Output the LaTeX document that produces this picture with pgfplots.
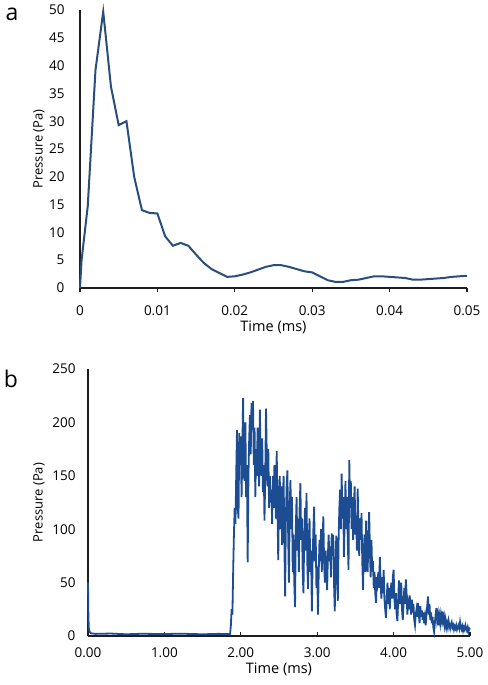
\documentclass[border=0pt]{standalone}
\usepackage{pgfplots}
\pgfplotsset{compat=1.18}
\usepackage{fontspec}
\setmainfont{Open Sans}
\definecolor{lineA}{RGB}{40,78,125}
\definecolor{lineB}{RGB}{28,76,145}
\definecolor{axc}{RGB}{30,30,30}
\begin{document}
\begin{tikzpicture}
\pgfplotsset{
  common/.style={
    scale only axis,
    anchor=south west,
    axis lines=left,
    axis line style={-, axc, line width=1.2pt},
    every tick/.style={axc, line width=1.1pt},
    ytick style={draw=none},
    tick label style={font=\fontsize{13.5}{15}\selectfont},
    xlabel style={font=\fontsize{14.5}{16}\selectfont},
    ylabel style={font=\fontsize{13}{15}\selectfont},
    xticklabel style={anchor=center},
    yticklabel style={anchor=east},
    /pgf/number format/assume math mode=true,
    scaled ticks=false,
    clip=false,
  }
}
% ---------- panel a ----------
\begin{axis}[common,
  at={(80pt,397pt)}, width=387pt, height=278pt,
  xmin=0, xmax=0.05, ymin=0, ymax=50,
  xtick={0,0.01,0.02,0.03,0.04,0.05},
  xticklabels={0,0.01,0.02,0.03,0.04,0.05},
  ytick={0,5,...,50},
  tick align=outside, major tick length=4pt,
  xticklabel style={yshift=-19pt},
  yticklabel style={xshift=-8pt},
  xlabel={Time (ms)}, ylabel={Pressure (Pa)},
  xlabel style={at={(axis description cs:0.5,-0.14)}, anchor=center},
  ylabel style={at={(axis description cs:-0.106,0.5)}, anchor=center, rotate=0},
]
\addplot[lineA, line width=2pt] coordinates {
(0,0) (0.0002,5) (0.001,14.7) (0.002,39.2) (0.003,49.7) (0.004,36.2)
(0.005,29.3) (0.006,30) (0.007,20) (0.008,14) (0.009,13.5) (0.010,13.4)
(0.011,9.3) (0.012,7.6) (0.013,8.1) (0.014,7.6) (0.015,6) (0.016,4.5)
(0.017,3.4) (0.018,2.7) (0.019,2.0) (0.020,2.1) (0.021,2.4) (0.022,2.8)
(0.023,3.3) (0.024,3.8) (0.025,4.1) (0.026,4.1) (0.027,3.8) (0.028,3.4)
(0.029,3.0) (0.030,2.8) (0.031,2.1) (0.032,1.4) (0.033,1.1) (0.034,1.1)
(0.035,1.4) (0.036,1.5) (0.037,1.8) (0.038,2.1) (0.039,2.1) (0.040,2.0)
(0.041,1.9) (0.042,1.8) (0.043,1.5) (0.044,1.5) (0.045,1.6) (0.046,1.7)
(0.047,1.8) (0.048,2.0) (0.049,2.1) (0.050,2.2)
};
\end{axis}
% ---------- panel b ----------
\begin{axis}[common,
  at={(88pt,49pt)}, width=382pt, height=267pt,
  xmin=0, xmax=5, ymin=0, ymax=250,
  xtick={0,1,2,3,4,5},
  xticklabels={0.00,1.00,2.00,3.00,4.00,5.00},
  ytick={0,50,...,250},
  tick align=inside, major tick length=4pt,
  xticklabel style={yshift=-17pt},
  yticklabel style={xshift=-9pt},
  xlabel={Time (ms)}, ylabel={Pressure (Pa)},
  xlabel style={at={(axis description cs:0.5,-0.125)}, anchor=center},
  ylabel style={at={(axis description cs:-0.128,0.5)}, anchor=center, rotate=0},
]
\addplot[lineB, line width=1.8pt] coordinates {
(0,50) (0.005,20) (0.01,8) (0.02,4) (0.04,2.5) (0.1,2) (0.3,2.3) (0.5,1.6)
(0.7,2.1) (1.0,1.8) (1.2,2.2) (1.5,1.6) (1.7,2) (1.85,1.8)
(1.86,2) (1.87,10) (1.88,25) (1.89,20) (1.90,60) (1.91,95) (1.92,120) (1.93,105)
(1.94,150) (1.95,193) (1.96,120) (1.97,110) (1.98,190) (1.99,160) (2.00,187)
(2.01,130) (2.02,175) (2.03,223) (2.04,150) (2.05,145) (2.06,200) (2.07,130)
(2.08,160) (2.09,69) (2.10,150) (2.11,185) (2.12,207) (2.13,170) (2.14,218)
(2.15,200) (2.16,220) (2.17,160) (2.18,195) (2.19,130) (2.20,175) (2.21,150)
(2.22,195) (2.23,180) (2.24,140) (2.25,212) (2.26,165) (2.27,150) (2.28,185)
(2.29,135) (2.30,160) (2.31,108) (2.32,150) (2.33,213) (2.34,170) (2.35,140)
(2.36,175) (2.37,120) (2.38,150) (2.39,125)
(2.40,137) (2.41,105) (2.42,150) (2.43,120) (2.44,160) (2.45,135) (2.46,110)
(2.47,173) (2.48,120) (2.49,71) (2.50,130) (2.51,150) (2.52,100) (2.53,140)
(2.54,85) (2.55,125) (2.56,150) (2.57,90) (2.58,37) (2.59,110) (2.60,140)
(2.61,155) (2.62,95) (2.63,50) (2.64,120) (2.65,146) (2.66,100) (2.67,130)
(2.68,60) (2.69,95) (2.70,50) (2.71,27) (2.72,100) (2.73,130) (2.74,80)
(2.75,110) (2.76,60) (2.77,120) (2.78,143) (2.79,90) (2.80,110) (2.81,60)
(2.82,40) (2.83,95) (2.84,120) (2.85,80) (2.86,134) (2.87,70) (2.88,44)
(2.89,90) (2.90,110) (2.91,60) (2.92,80) (2.93,23) (2.94,70) (2.95,100)
(2.96,121) (2.97,70) (2.98,95) (2.99,45) (3.00,65) (3.01,20) (3.02,60)
(3.03,90) (3.04,70) (3.05,100) (3.06,60) (3.07,85) (3.08,112) (3.09,70)
(3.10,50) (3.11,80) (3.12,60) (3.13,43) (3.14,75) (3.15,95) (3.16,70)
(3.17,84) (3.18,55) (3.19,96) (3.20,75) (3.21,95) (3.22,50) (3.23,23)
(3.24,70) (3.25,94) (3.26,60) (3.27,33) (3.28,90) (3.29,120) (3.30,137)
(3.31,100) (3.32,152) (3.33,110) (3.34,130) (3.35,74) (3.36,110) (3.37,145)
(3.38,100) (3.39,130) (3.40,90) (3.41,62) (3.42,165) (3.43,120) (3.44,145)
(3.45,100) (3.46,130) (3.47,90) (3.48,120) (3.49,140) (3.50,95) (3.51,110)
(3.52,80) (3.53,138) (3.54,100) (3.55,75) (3.56,110) (3.57,90) (3.58,115)
(3.59,70) (3.60,43) (3.61,80) (3.62,95) (3.63,60) (3.64,108) (3.65,80)
(3.66,60) (3.67,90) (3.68,116) (3.69,80) (3.70,55) (3.71,90) (3.72,60)
(3.73,70) (3.74,45) (3.75,60) (3.76,40) (3.77,31) (3.78,55) (3.79,50)
(3.80,60) (3.81,45) (3.82,74) (3.83,50) (3.84,35) (3.85,55) (3.86,40)
(3.87,62) (3.88,35) (3.89,25) (3.90,17) (3.91,35) (3.92,50) (3.93,30)
(3.94,45) (3.95,25) (3.96,40) (3.97,50) (3.98,35) (3.99,55) (4.00,62)
(4.01,35) (4.02,25) (4.03,40) (4.04,20) (4.05,14) (4.06,35) (4.07,52)
(4.08,30) (4.09,45) (4.10,50) (4.11,25) (4.12,15) (4.13,30) (4.14,45)
(4.15,30) (4.16,53) (4.17,40) (4.18,20) (4.19,30) (4.20,25) (4.21,38)
(4.22,30) (4.23,20) (4.24,34) (4.25,22) (4.26,30) (4.27,15) (4.28,10)
(4.29,20) (4.30,25) (4.31,18) (4.32,31) (4.33,20) (4.34,12) (4.35,28)
(4.36,18) (4.37,24) (4.38,15) (4.39,22) (4.40,12) (4.41,18) (4.42,10)
(4.43,20) (4.44,28) (4.45,37) (4.46,20) (4.47,30) (4.48,15) (4.49,22)
(4.50,12) (4.51,18) (4.52,8) (4.53,4) (4.54,12) (4.55,20) (4.56,26)
(4.57,15) (4.58,20) (4.59,10) (4.60,18) (4.61,12) (4.62,20) (4.63,15)
(4.64,23) (4.65,14) (4.66,18) (4.67,10) (4.68,15) (4.69,8) (4.70,12)
(4.71,8) (4.72,14) (4.73,10) (4.74,7) (4.75,11) (4.76,13) (4.77,8)
(4.78,10) (4.79,6) (4.80,9) (4.81,7) (4.82,10) (4.83,6) (4.84,8)
(4.85,10) (4.86,7) (4.87,13) (4.88,8) (4.89,6) (4.90,9) (4.91,5)
(4.92,8) (4.93,6) (4.94,10) (4.95,7) (4.96,5) (4.97,8) (4.98,4)
(4.99,7) (5.00,6)
};
\end{axis}
\node[font=\fontsize{23}{26}\selectfont, anchor=base] at (12pt,664pt) {a};
\node[font=\fontsize{23}{26}\selectfont, anchor=base] at (11pt,297pt) {b};
\path (0pt,0pt) rectangle (487pt,685pt);
\end{tikzpicture}
\end{document}
